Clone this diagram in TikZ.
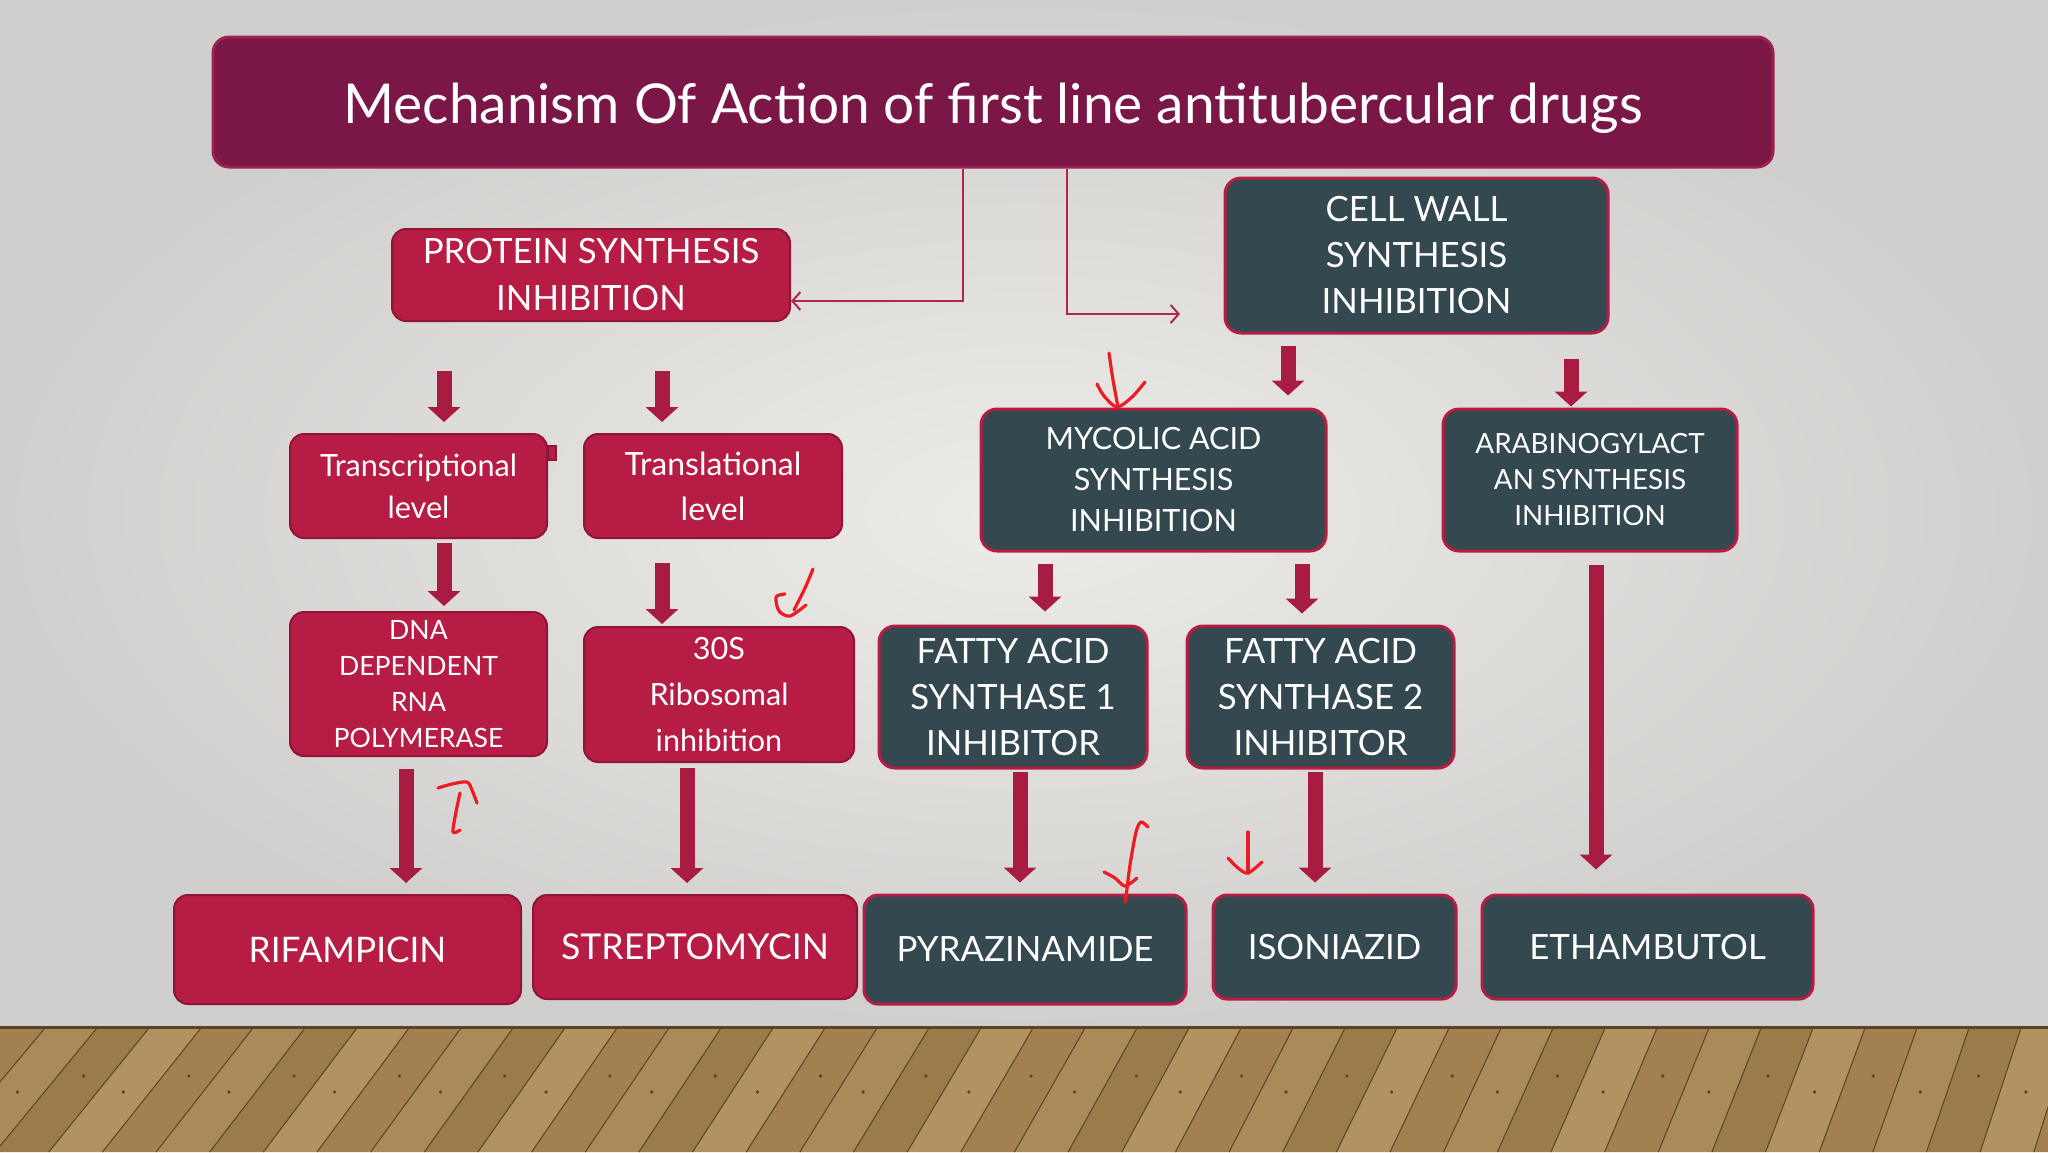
\documentclass[tikz,border=0pt]{standalone}
\usepackage{fontspec}
\setmainfont{Lato}
\usetikzlibrary{arrows.meta,calc}
\definecolor{crim}{HTML}{B71C44}
\definecolor{crimdark}{HTML}{8E1536}
\definecolor{titlecol}{HTML}{7A1746}
\definecolor{titleedge}{HTML}{9B2150}
\definecolor{slate}{HTML}{33484F}
\definecolor{arrowcol}{HTML}{A81C42}
\definecolor{thincol}{HTML}{B0274E}
\definecolor{penred}{HTML}{EC1C24}
\definecolor{wallC}{HTML}{EEECE8}
\definecolor{wallE}{HTML}{D0CFCD}
\definecolor{wood0}{HTML}{AB8A5A}
\definecolor{wood1}{HTML}{A2804F}
\definecolor{wood2}{HTML}{B39262}
\definecolor{wood3}{HTML}{9C7B4A}
\definecolor{woodline}{HTML}{5A4226}
\begin{document}
\begin{tikzpicture}[x=0.5pt,y=-0.5pt,
  redbox/.style={rectangle, rounded corners=7pt, fill=crim, draw=crimdark, line width=1pt, text=white, align=center, inner sep=0pt},
  slatebox/.style={rectangle, rounded corners=8pt, fill=slate, draw=crim, line width=1.5pt, text=white, align=center, inner sep=0pt},
  bigarrow/.style={draw=arrowcol, line width=7.5pt, -{Triangle[width=16pt,length=7.5pt]}},
  thinarrow/.style={draw=thincol, line width=1pt, -{Straight Barb[length=4pt,width=9pt]}},
  pen/.style={draw=penred, line width=1.6pt, line cap=round, line join=round},
  fs/.style 2 args={font=\fontsize{#1}{#2}\selectfont}
]
\useasboundingbox (0,0) rectangle (2048,1152);
% wall
\shade[inner color=wallC, outer color=wallE] (0,0) rectangle (2048,1028);
% floor
\foreach \k in {0,...,44}{
  \pgfmathsetmacro\xa{-111+52*\k}
  \pgfmathsetmacro\xb{\xa+52}
  \pgfmathsetmacro\da{105-0.031738*\xa}
  \pgfmathsetmacro\db{105-0.031738*\xb}
  \pgfmathsetmacro\xc{\xa-\da}
  \pgfmathsetmacro\xd{\xb-\db}
  \pgfmathtruncatemacro\m{mod(\k*7+3,4)}
  \pgfmathsetmacro\ny{ifthenelse(mod(\k,2)==0,1076,1092)}
  \pgfmathsetmacro\nx{\xa+26-\da*(\ny-1028)/124}
  \fill[wood\m] (\xa,1028) -- (\xb,1028) -- (\xd,1152) -- (\xc,1152) -- cycle;
  \draw[woodline, line width=0.5pt] (\xa,1028) -- (\xc,1152);
  \fill[woodline] (\nx,\ny) circle[radius=1.8];
}
\fill[woodline] (0,1026) rectangle (2048,1029);

% title
\node[rectangle, rounded corners=8pt, fill=titlecol, draw=titleedge, line width=1.5pt,
  minimum width=780pt, minimum height=65pt, text=white, fs={27.5}{33},
  text height=21.3pt, text depth=0pt] (title) at (993,102)
  {Mechanism Of Action of first line antitubercular drugs};

% level 1
\node[redbox, minimum width=199pt, minimum height=46pt, fs={17.4}{23.5}] (prot) at (591,275)
  {PROTEIN SYNTHESIS\\INHIBITION};
\node[slatebox, minimum width=191.5pt, minimum height=77.5pt, fs={17.4}{23}] (cw) at (1416.5,255.5)
  {CELL WALL\\SYNTHESIS\\INHIBITION};

% level 2
\node[redbox, minimum width=128.5pt, minimum height=52pt, fs={15.3}{21}] (tr) at (418.5,486)
  {Transcriptional\\level};
\fill[crim, draw=crimdark, line width=0.8pt] ($(tr.north east)+(0,13)$) rectangle ++(8,14);
\node[redbox, minimum width=129pt, minimum height=52pt, fs={16}{22.5}] (trl) at (713,486)
  {Translational\\level};
\node[slatebox, minimum width=172.5pt, minimum height=71pt, fs={15.3}{20.5}] (myc) at (1153.5,480)
  {MYCOLIC ACID\\SYNTHESIS\\INHIBITION};
\node[slatebox, minimum width=147pt, minimum height=71pt, fs={13.9}{18}] (arab) at (1590,480)
  {ARABINOGYLACT\\AN SYNTHESIS\\INHIBITION};

% level 3
\node[redbox, minimum width=128.5pt, minimum height=72pt, fs={13.3}{18}] (dna) at (418.5,684)
  {DNA\\DEPENDENT\\RNA\\POLYMERASE};
\node[redbox, minimum width=135pt, minimum height=67.5pt, fs={15.3}{23}] (rib) at (719,694.5)
  {30S\\Ribosomal\\inhibition};
\node[slatebox, minimum width=134pt, minimum height=71pt, fs={17.4}{23}] (fa1) at (1013,697)
  {FATTY ACID\\SYNTHASE 1\\INHIBITOR};
\node[slatebox, minimum width=133.5pt, minimum height=71pt, fs={17.4}{23}] (fa2) at (1320.5,697)
  {FATTY ACID\\SYNTHASE 2\\INHIBITOR};

% drugs
\node[redbox, rounded corners=7pt, minimum width=173.5pt, minimum height=54.5pt, fs={17.6}{21}] (rif) at (347.5,949.5) {RIFAMPICIN};
\node[redbox, rounded corners=7pt, minimum width=162pt, minimum height=52pt, fs={17.8}{21}] (strep) at (695,947) {STREPTOMYCIN};
\node[slatebox, rounded corners=7pt, minimum width=161pt, minimum height=54.5pt, fs={17.4}{21}] (pyra) at (1025,949.5) {PYRAZINAMIDE};
\node[slatebox, rounded corners=7pt, minimum width=121.5pt, minimum height=52pt, fs={17.4}{21}] (iso) at (1334.5,947) {ISONIAZID};
\node[slatebox, rounded corners=7pt, minimum width=165.5pt, minimum height=52pt, fs={17.4}{21}] (eth) at (1647.5,947) {ETHAMBUTOL};

% thin connectors from title
\coordinate (cwin) at (1180,314);
\draw[thinarrow] ([xshift=-15pt]title.south) |- ([yshift=-13pt]prot.east);
\draw[thinarrow] ([xshift=37pt]title.south) |- (cwin);

% block arrows
\draw[bigarrow, shorten <=24.5pt, shorten >=5.5pt] ([xshift=12.75pt]tr.north |- prot.south) -- ([xshift=12.75pt]tr.north);
\draw[bigarrow, shorten <=24.5pt, shorten >=5.5pt] ([xshift=-25.5pt]trl.north |- prot.south) -- ([xshift=-25.5pt]trl.north);
\draw[bigarrow, shorten <=2pt, shorten >=2.5pt] ([xshift=12.75pt]dna.north |- tr.south) -- ([xshift=12.75pt]dna.north);
\draw[bigarrow, shorten <=12pt, shorten >=1pt] ([xshift=-28.5pt]rib.north |- trl.south) -- ([xshift=-28.5pt]rib.north);
\draw[bigarrow, shorten <=6pt, shorten >=5.5pt] ([xshift=29.25pt]rif.north |- dna.south) -- ([xshift=29.25pt]rif.north);
\draw[bigarrow, shorten <=2.5pt, shorten >=5.5pt] ([xshift=-4pt]strep.north |- rib.south) -- ([xshift=-4pt]strep.north);
\draw[bigarrow, shorten <=1pt, shorten >=5.5pt] ([xshift=-2.5pt]pyra.north |- fa1.south) -- ([xshift=-2.5pt]pyra.north);
\draw[bigarrow, shorten <=1pt, shorten >=5.5pt] ([xshift=-9.75pt]iso.north |- fa2.south) -- ([xshift=-9.75pt]iso.north);
\draw[bigarrow, shorten <=6pt, shorten >=12pt] ([xshift=-25.75pt]eth.north |- arab.south) -- ([xshift=-25.75pt]eth.north);
\draw[bigarrow, shorten <=5.5pt, shorten >=6pt] ([xshift=67.25pt]myc.north |- cw.south) -- ([xshift=67.25pt]myc.north);
\draw[bigarrow, shorten <=12pt, shorten >=0.5pt] ([xshift=-9.5pt]arab.north |- cw.south) -- ([xshift=-9.5pt]arab.north);
\draw[bigarrow, shorten <=5.5pt, shorten >=6.5pt] ([xshift=16pt]fa1.north |- myc.south) -- ([xshift=16pt]fa1.north);
\draw[bigarrow, shorten <=5.5pt, shorten >=5.5pt] ([xshift=-9.25pt]fa2.north |- myc.south) -- ([xshift=-9.25pt]fa2.north);

% handwritten red marks
\draw[pen] plot[smooth] coordinates {(813,569) (805,588) (794,610)};
\draw[pen] plot[smooth] coordinates {(785,594) (776,597) (779,611) (790,616) (806,605)};
\draw[pen] plot[smooth] coordinates {(1109,353) (1113,380) (1118,407)};
\draw[pen] plot[smooth] coordinates {(1097,384) (1104,396) (1117,407) (1132,397) (1145,382)};
\draw[pen] plot[smooth] coordinates {(438,788) (452,784) (467,782) (472,790) (477,803)};
\draw[pen] plot[smooth] coordinates {(460,793) (456,812) (453,832) (460,830)};
\draw[pen] plot[smooth] coordinates {(1148,827) (1141,822) (1136,832) (1130,865) (1126,897) (1125,902)};
\draw[pen] plot[smooth] coordinates {(1104,872) (1115,878) (1125,886) (1137,878)};
\draw[pen] plot[smooth] coordinates {(1248,832) (1248,852) (1248,873)};
\draw[pen] plot[smooth] coordinates {(1228,858) (1238,868) (1248,873) (1262,862)};
\end{tikzpicture}
\end{document}
